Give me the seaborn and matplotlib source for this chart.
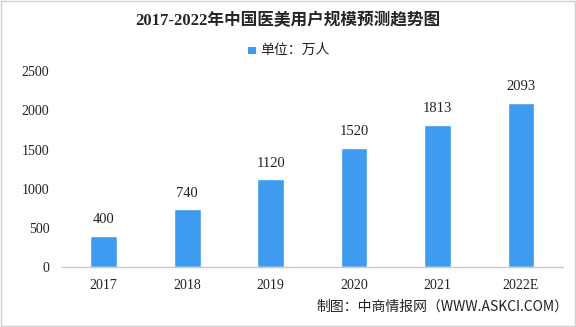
import matplotlib
matplotlib.use("Agg")
import matplotlib.pyplot as plt
import seaborn as sns
import pandas as pd
from matplotlib.patches import Rectangle

years = ["2017", "2018", "2019", "2020", "2021", "2022E"]
users = [400, 740, 1120, 1520, 1813, 2093]
yticks = [0, 500, 1000, 1500, 2000, 2500]
title = "2017-2022年中国医美用户规模预测趋势图"
legend_label = "单位：万人"
source = "制图：中商情报网（WWW.ASKCI.COM）"

sns.set_theme(style="white")
plt.rcParams['font.family'] = ['Liberation Serif', 'Noto Sans CJK SC']

df = pd.DataFrame({"year": years, "users": users})
color = "#3f9bf0"

fig = plt.figure(figsize=(5.76, 3.27), dpi=100)
ax = fig.add_axes([0.1076, 0.182, 0.8694, 0.601])
sns.barplot(data=df, x="year", y="users", color=color, width=0.32,
            saturation=1, ax=ax)
ax.set_xlim(-0.5, 5.5)
ax.set_ylim(0, 2500)
ax.set_yticks(yticks)
ax.set_xlabel("")
ax.set_ylabel("")
for s in ["top", "right", "left"]:
    ax.spines[s].set_visible(False)
ax.spines["bottom"].set_color("#c8c8c8")
ax.spines["bottom"].set_linewidth(1.0)
ax.tick_params(axis="both", length=0, labelsize=10, colors="#222222")
ax.tick_params(axis="y", pad=9)
ax.tick_params(axis="x", pad=8)

for c in ax.containers:
    ax.bar_label(c, labels=[str(v) for v in users], padding=7,
                 fontsize=10.5, color="#222222")

fig.text(0.5, 0.937, title, ha="center", va="center", fontsize=12,
         fontweight="bold", family=['Liberation Serif', 'Noto Sans CJK SC'])
fig.patches.append(Rectangle((0.431, 0.835), 0.013, 0.022, transform=fig.transFigure,
                             facecolor=color, edgecolor="none"))
fig.text(0.451, 0.846, legend_label, ha="left", va="center", fontsize=10,
         family=['Noto Sans CJK SC'], color="#222222")
fig.text(0.986, 0.061, source, ha="right", va="center", fontsize=10,
         family=['Noto Sans CJK SC', 'Liberation Serif'], color="#222222")
fig.patches.append(Rectangle((0.001, 0.002), 0.997, 0.996, transform=fig.transFigure,
                             facecolor="none", edgecolor="#d0d0d0", linewidth=1))

fig.savefig("out.png", dpi=100)
